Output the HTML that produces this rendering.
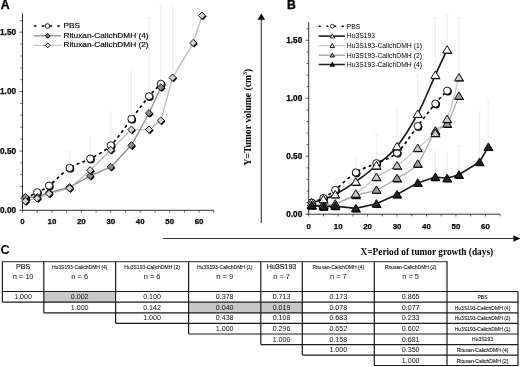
<!DOCTYPE html>
<html><head><meta charset="utf-8"><style>
html,body{margin:0;padding:0;background:#fff;overflow:hidden;width:520px;height:367px;}
svg{display:block;}
</style></head><body>
<svg width="520" height="367" viewBox="0 0 520 367">
<rect width="520" height="367" fill="#fff"/>
<text x="0.70" y="9.00" font-size="12.3" text-anchor="start" font-weight="bold" font-family="'Liberation Sans', Arial, sans-serif" fill="#000" stroke="#000" stroke-width="0.3" >A</text>
<text x="286.90" y="9.00" font-size="12.3" text-anchor="start" font-weight="bold" font-family="'Liberation Sans', Arial, sans-serif" fill="#000" stroke="#000" stroke-width="0.35" >B</text>
<text x="0.60" y="254.40" font-size="12.8" text-anchor="start" font-weight="bold" font-family="'Liberation Sans', Arial, sans-serif" fill="#000" >C</text>
<path d="M49.0,186.0 V177.0 M47.0,177.0 H51.0" stroke="#e9e9e9" stroke-width="0.8" fill="none"/>
<path d="M69.6,168.0 V152.0 M67.6,152.0 H71.6" stroke="#e9e9e9" stroke-width="0.8" fill="none"/>
<path d="M90.2,158.0 V137.5 M88.2,137.5 H92.2" stroke="#e9e9e9" stroke-width="0.8" fill="none"/>
<path d="M110.8,145.0 V112.0 M108.8,112.0 H112.8" stroke="#e9e9e9" stroke-width="0.8" fill="none"/>
<path d="M131.4,119.0 V70.0 M129.4,70.0 H133.4" stroke="#e9e9e9" stroke-width="0.8" fill="none"/>
<path d="M149.0,96.0 V18.0 M147.0,18.0 H151.0" stroke="#e9e9e9" stroke-width="0.8" fill="none"/>
<path d="M160.8,84.0 V6.0 M158.8,6.0 H162.8" stroke="#e9e9e9" stroke-width="0.8" fill="none"/>
<path d="M172.6,77.0 V6.0 M170.6,6.0 H174.6" stroke="#e9e9e9" stroke-width="0.8" fill="none"/>
<path d="M193.2,42.0 V10.0 M191.2,10.0 H195.2" stroke="#e9e9e9" stroke-width="0.8" fill="none"/>
<path d="M22.5,13.3 V210.3" stroke="#333" stroke-width="1" fill="none"/>
<path d="M19.5,210.3 H213.8" stroke="#333" stroke-width="1" fill="none"/>
<path d="M20.3,198.4 H22.5" stroke="#333" stroke-width="0.8"/>
<path d="M20.3,186.6 H22.5" stroke="#333" stroke-width="0.8"/>
<path d="M20.3,174.7 H22.5" stroke="#333" stroke-width="0.8"/>
<path d="M20.3,162.8 H22.5" stroke="#333" stroke-width="0.8"/>
<path d="M19.5,151.0 H22.5" stroke="#333" stroke-width="0.8"/>
<path d="M20.3,139.1 H22.5" stroke="#333" stroke-width="0.8"/>
<path d="M20.3,127.2 H22.5" stroke="#333" stroke-width="0.8"/>
<path d="M20.3,115.3 H22.5" stroke="#333" stroke-width="0.8"/>
<path d="M20.3,103.5 H22.5" stroke="#333" stroke-width="0.8"/>
<path d="M19.5,91.6 H22.5" stroke="#333" stroke-width="0.8"/>
<path d="M20.3,79.7 H22.5" stroke="#333" stroke-width="0.8"/>
<path d="M20.3,67.9 H22.5" stroke="#333" stroke-width="0.8"/>
<path d="M20.3,56.0 H22.5" stroke="#333" stroke-width="0.8"/>
<path d="M20.3,44.1 H22.5" stroke="#333" stroke-width="0.8"/>
<path d="M19.5,32.2 H22.5" stroke="#333" stroke-width="0.8"/>
<path d="M20.3,20.4 H22.5" stroke="#333" stroke-width="0.8"/>
<path d="M22.5,210.3 V212.6" stroke="#333" stroke-width="0.8"/>
<path d="M37.2,210.3 V212.6" stroke="#333" stroke-width="0.8"/>
<path d="M51.9,210.3 V212.6" stroke="#333" stroke-width="0.8"/>
<path d="M66.6,210.3 V212.6" stroke="#333" stroke-width="0.8"/>
<path d="M81.4,210.3 V212.6" stroke="#333" stroke-width="0.8"/>
<path d="M96.1,210.3 V212.6" stroke="#333" stroke-width="0.8"/>
<path d="M110.8,210.3 V212.6" stroke="#333" stroke-width="0.8"/>
<path d="M125.5,210.3 V212.6" stroke="#333" stroke-width="0.8"/>
<path d="M140.2,210.3 V212.6" stroke="#333" stroke-width="0.8"/>
<path d="M154.9,210.3 V212.6" stroke="#333" stroke-width="0.8"/>
<path d="M169.7,210.3 V212.6" stroke="#333" stroke-width="0.8"/>
<path d="M184.4,210.3 V212.6" stroke="#333" stroke-width="0.8"/>
<path d="M199.1,210.3 V212.6" stroke="#333" stroke-width="0.8"/>
<path d="M213.8,210.3 V212.6" stroke="#333" stroke-width="0.8"/>
<text x="16.00" y="213.10" font-size="8.2" text-anchor="end" font-weight="bold" font-family="'Liberation Sans', Arial, sans-serif" fill="#000" stroke="#000" stroke-width="0.25" >0.00</text>
<text x="16.00" y="153.75" font-size="8.2" text-anchor="end" font-weight="bold" font-family="'Liberation Sans', Arial, sans-serif" fill="#000" stroke="#000" stroke-width="0.25" >0.50</text>
<text x="16.00" y="94.40" font-size="8.2" text-anchor="end" font-weight="bold" font-family="'Liberation Sans', Arial, sans-serif" fill="#000" stroke="#000" stroke-width="0.25" >1.00</text>
<text x="16.00" y="35.05" font-size="8.2" text-anchor="end" font-weight="bold" font-family="'Liberation Sans', Arial, sans-serif" fill="#000" stroke="#000" stroke-width="0.25" >1.50</text>
<text x="22.50" y="224.00" font-size="7.9" text-anchor="middle" font-weight="bold" font-family="'Liberation Sans', Arial, sans-serif" fill="#000" stroke="#000" stroke-width="0.25" >0</text>
<text x="51.93" y="224.00" font-size="7.9" text-anchor="middle" font-weight="bold" font-family="'Liberation Sans', Arial, sans-serif" fill="#000" stroke="#000" stroke-width="0.25" >10</text>
<text x="81.36" y="224.00" font-size="7.9" text-anchor="middle" font-weight="bold" font-family="'Liberation Sans', Arial, sans-serif" fill="#000" stroke="#000" stroke-width="0.25" >20</text>
<text x="110.79" y="224.00" font-size="7.9" text-anchor="middle" font-weight="bold" font-family="'Liberation Sans', Arial, sans-serif" fill="#000" stroke="#000" stroke-width="0.25" >30</text>
<text x="140.22" y="224.00" font-size="7.9" text-anchor="middle" font-weight="bold" font-family="'Liberation Sans', Arial, sans-serif" fill="#000" stroke="#000" stroke-width="0.25" >40</text>
<text x="169.65" y="224.00" font-size="7.9" text-anchor="middle" font-weight="bold" font-family="'Liberation Sans', Arial, sans-serif" fill="#000" stroke="#000" stroke-width="0.25" >50</text>
<text x="199.08" y="224.00" font-size="7.9" text-anchor="middle" font-weight="bold" font-family="'Liberation Sans', Arial, sans-serif" fill="#000" stroke="#000" stroke-width="0.25" >60</text>
<path d="M25.4,201.2 L37.2,198.4 L49.0,193.7 L69.6,188.3 L90.2,170.3 L110.8,150.0 L131.4,129.6 L149.0,129.6 L160.8,120.6 L172.6,77.6 L193.2,42.9 L202.0,15.6" stroke="#bdbdbd" stroke-width="1.3" fill="none"/>
<path d="M25.4,197.0 L37.2,197.2 L49.0,192.5 L69.6,187.2 L90.2,175.9 L110.8,166.9 L131.4,145.3 L149.0,113.2 L160.8,87.4" stroke="#8c8c8c" stroke-width="1.3" fill="none"/>
<path d="M25.4,198.4 C27.4,197.4 33.3,194.4 37.2,192.3 C41.1,190.1 43.6,189.8 49.0,185.7 C54.4,181.7 62.7,172.4 69.6,167.9 C76.5,163.4 83.3,162.4 90.2,158.7 C97.1,154.9 103.9,152.0 110.8,145.4 C117.7,138.7 125.0,127.1 131.4,118.9 C137.8,110.7 144.1,102.2 149.0,96.3 C154.0,90.5 158.9,85.9 160.8,83.8" stroke="#000" stroke-width="1.7" stroke-dasharray="3 3.2" fill="none"/>
<circle cx="26.2" cy="199.2" r="3.9" fill="#000"/>
<circle cx="25.4" cy="198.4" r="3.6" fill="#fff" stroke="#000" stroke-width="0.9"/>
<circle cx="38.0" cy="193.1" r="3.9" fill="#000"/>
<circle cx="37.2" cy="192.3" r="3.6" fill="#fff" stroke="#000" stroke-width="0.9"/>
<circle cx="49.8" cy="186.5" r="3.9" fill="#000"/>
<circle cx="49.0" cy="185.7" r="3.6" fill="#fff" stroke="#000" stroke-width="0.9"/>
<circle cx="70.4" cy="168.7" r="3.9" fill="#000"/>
<circle cx="69.6" cy="167.9" r="3.6" fill="#fff" stroke="#000" stroke-width="0.9"/>
<circle cx="91.0" cy="159.5" r="3.9" fill="#000"/>
<circle cx="90.2" cy="158.7" r="3.6" fill="#fff" stroke="#000" stroke-width="0.9"/>
<circle cx="111.6" cy="146.2" r="3.9" fill="#000"/>
<circle cx="110.8" cy="145.4" r="3.6" fill="#fff" stroke="#000" stroke-width="0.9"/>
<circle cx="132.2" cy="119.7" r="3.9" fill="#000"/>
<circle cx="131.4" cy="118.9" r="3.6" fill="#fff" stroke="#000" stroke-width="0.9"/>
<circle cx="149.8" cy="97.1" r="3.9" fill="#000"/>
<circle cx="149.0" cy="96.3" r="3.6" fill="#fff" stroke="#000" stroke-width="0.9"/>
<circle cx="161.6" cy="84.6" r="3.9" fill="#000"/>
<circle cx="160.8" cy="83.8" r="3.6" fill="#fff" stroke="#000" stroke-width="0.9"/>
<path d="M26.4,194.4 L30.0,198.0 L26.4,201.6 L22.8,198.0Z" fill="#000"/>
<path d="M25.4,193.4 L29.0,197.0 L25.4,200.6 L21.8,197.0Z" fill="#8a8a8a" stroke="#000" stroke-width="0.85"/>
<path d="M38.2,194.6 L41.8,198.2 L38.2,201.8 L34.6,198.2Z" fill="#000"/>
<path d="M37.2,193.6 L40.8,197.2 L37.2,200.8 L33.6,197.2Z" fill="#8a8a8a" stroke="#000" stroke-width="0.85"/>
<path d="M50.0,189.9 L53.6,193.5 L50.0,197.1 L46.4,193.5Z" fill="#000"/>
<path d="M49.0,188.9 L52.6,192.5 L49.0,196.1 L45.4,192.5Z" fill="#8a8a8a" stroke="#000" stroke-width="0.85"/>
<path d="M70.6,184.6 L74.2,188.2 L70.6,191.8 L67.0,188.2Z" fill="#000"/>
<path d="M69.6,183.6 L73.2,187.2 L69.6,190.8 L66.0,187.2Z" fill="#8a8a8a" stroke="#000" stroke-width="0.85"/>
<path d="M91.2,173.3 L94.8,176.9 L91.2,180.5 L87.6,176.9Z" fill="#000"/>
<path d="M90.2,172.3 L93.8,175.9 L90.2,179.5 L86.6,175.9Z" fill="#8a8a8a" stroke="#000" stroke-width="0.85"/>
<path d="M111.8,164.3 L115.4,167.9 L111.8,171.5 L108.2,167.9Z" fill="#000"/>
<path d="M110.8,163.3 L114.4,166.9 L110.8,170.5 L107.2,166.9Z" fill="#8a8a8a" stroke="#000" stroke-width="0.85"/>
<path d="M132.4,142.7 L136.0,146.3 L132.4,149.9 L128.8,146.3Z" fill="#000"/>
<path d="M131.4,141.7 L135.0,145.3 L131.4,148.9 L127.8,145.3Z" fill="#8a8a8a" stroke="#000" stroke-width="0.85"/>
<path d="M150.0,110.6 L153.6,114.2 L150.0,117.8 L146.4,114.2Z" fill="#000"/>
<path d="M149.0,109.6 L152.6,113.2 L149.0,116.8 L145.4,113.2Z" fill="#8a8a8a" stroke="#000" stroke-width="0.85"/>
<path d="M161.8,84.8 L165.4,88.4 L161.8,92.0 L158.2,88.4Z" fill="#000"/>
<path d="M160.8,83.8 L164.4,87.4 L160.8,91.0 L157.2,87.4Z" fill="#8a8a8a" stroke="#000" stroke-width="0.85"/>
<path d="M26.4,198.6 L30.0,202.2 L26.4,205.8 L22.8,202.2Z" fill="#000"/>
<path d="M25.4,197.6 L29.0,201.2 L25.4,204.8 L21.8,201.2Z" fill="#d0d0d0" stroke="#000" stroke-width="0.85"/>
<path d="M38.2,195.8 L41.8,199.4 L38.2,203.0 L34.6,199.4Z" fill="#000"/>
<path d="M37.2,194.8 L40.8,198.4 L37.2,202.0 L33.6,198.4Z" fill="#d0d0d0" stroke="#000" stroke-width="0.85"/>
<path d="M50.0,191.1 L53.6,194.7 L50.0,198.3 L46.4,194.7Z" fill="#000"/>
<path d="M49.0,190.1 L52.6,193.7 L49.0,197.3 L45.4,193.7Z" fill="#d0d0d0" stroke="#000" stroke-width="0.85"/>
<path d="M70.6,185.7 L74.2,189.3 L70.6,192.9 L67.0,189.3Z" fill="#000"/>
<path d="M69.6,184.7 L73.2,188.3 L69.6,191.9 L66.0,188.3Z" fill="#d0d0d0" stroke="#000" stroke-width="0.85"/>
<path d="M91.2,167.7 L94.8,171.3 L91.2,174.9 L87.6,171.3Z" fill="#000"/>
<path d="M90.2,166.7 L93.8,170.3 L90.2,173.9 L86.6,170.3Z" fill="#d0d0d0" stroke="#000" stroke-width="0.85"/>
<path d="M111.8,147.4 L115.4,151.0 L111.8,154.6 L108.2,151.0Z" fill="#000"/>
<path d="M110.8,146.4 L114.4,150.0 L110.8,153.6 L107.2,150.0Z" fill="#d0d0d0" stroke="#000" stroke-width="0.85"/>
<path d="M132.4,127.0 L136.0,130.6 L132.4,134.2 L128.8,130.6Z" fill="#000"/>
<path d="M131.4,126.0 L135.0,129.6 L131.4,133.2 L127.8,129.6Z" fill="#d0d0d0" stroke="#000" stroke-width="0.85"/>
<path d="M150.0,127.0 L153.6,130.6 L150.0,134.2 L146.4,130.6Z" fill="#000"/>
<path d="M149.0,126.0 L152.6,129.6 L149.0,133.2 L145.4,129.6Z" fill="#d0d0d0" stroke="#000" stroke-width="0.85"/>
<path d="M161.8,118.0 L165.4,121.6 L161.8,125.2 L158.2,121.6Z" fill="#000"/>
<path d="M160.8,117.0 L164.4,120.6 L160.8,124.2 L157.2,120.6Z" fill="#d0d0d0" stroke="#000" stroke-width="0.85"/>
<path d="M173.6,75.0 L177.2,78.6 L173.6,82.2 L170.0,78.6Z" fill="#000"/>
<path d="M172.6,74.0 L176.2,77.6 L172.6,81.2 L169.0,77.6Z" fill="#d0d0d0" stroke="#000" stroke-width="0.85"/>
<path d="M194.2,40.3 L197.8,43.9 L194.2,47.5 L190.6,43.9Z" fill="#000"/>
<path d="M193.2,39.3 L196.8,42.9 L193.2,46.5 L189.6,42.9Z" fill="#d0d0d0" stroke="#000" stroke-width="0.85"/>
<path d="M203.0,13.0 L206.6,16.6 L203.0,20.2 L199.4,16.6Z" fill="#000"/>
<path d="M202.0,12.0 L205.6,15.6 L202.0,19.2 L198.4,15.6Z" fill="#d0d0d0" stroke="#000" stroke-width="0.85"/>
<path d="M33.9,26.0 H61" stroke="#000" stroke-width="1.7" stroke-dasharray="2.6 5.2" fill="none"/>
<circle cx="47.4" cy="26.0" r="2.3" fill="#fff" stroke="#000" stroke-width="0.9"/>
<text transform="translate(63.50,27.70) scale(1.15,1)" font-size="7.2" text-anchor="start" font-weight="normal" font-family="'Liberation Sans', Arial, sans-serif" fill="#000" stroke="#000" stroke-width="0.15" >PBS</text>
<path d="M33.7,35.8 H61" stroke="#8c8c8c" stroke-width="1.3" fill="none"/>
<path d="M47.7,33.4 L50.1,35.8 L47.7,38.2 L45.3,35.8Z" fill="#777" stroke="#000" stroke-width="1.0"/>
<text transform="translate(63.50,37.50) scale(1.15,1)" font-size="7.2" text-anchor="start" font-weight="normal" font-family="'Liberation Sans', Arial, sans-serif" fill="#000" stroke="#000" stroke-width="0.15" >Rituxan-CalichDMH (4)</text>
<path d="M33.7,45.4 H61" stroke="#c8c8c8" stroke-width="1.3" fill="none"/>
<path d="M47.7,43.0 L50.1,45.4 L47.7,47.8 L45.3,45.4Z" fill="#fff" stroke="#000" stroke-width="1.0"/>
<text transform="translate(63.50,46.90) scale(1.15,1)" font-size="7.2" text-anchor="start" font-weight="normal" font-family="'Liberation Sans', Arial, sans-serif" fill="#000" stroke="#000" stroke-width="0.15" >Rituxan-CalichDMH (2)</text>
<path d="M261.3,19 V223" stroke="#333" stroke-width="1.1" fill="none"/>
<path d="M261.3,13.6 L265.2,19.8 L257.4,19.8Z" fill="#111"/>
<path d="M163,238.5 H514" stroke="#333" stroke-width="1.1" fill="none"/>
<path d="M520.5,238.5 L513.3,235.3 L513.3,241.7Z" fill="#111"/>
<text x="0.00" y="0.00" font-size="9.65" text-anchor="start" font-weight="bold" font-family="'Liberation Serif', 'Times New Roman', serif" fill="#000" transform="translate(250.9,165.5) rotate(-90)">Y=Tumor volume (cm<tspan font-size="6" dy="-3.5">3</tspan><tspan dy="3.5">)</tspan></text>
<text x="360.60" y="255.20" font-size="9.3" text-anchor="start" font-weight="bold" font-family="'Liberation Serif', 'Times New Roman', serif" fill="#000" >X=Period of tumor growth (days)</text>
<path d="M335.2,189.0 V180.0 M333.2,180.0 H337.2" stroke="#e9e9e9" stroke-width="0.8" fill="none"/>
<path d="M355.8,172.0 V157.0 M353.8,157.0 H357.8" stroke="#e9e9e9" stroke-width="0.8" fill="none"/>
<path d="M376.4,163.0 V134.5 M374.4,134.5 H378.4" stroke="#e9e9e9" stroke-width="0.8" fill="none"/>
<path d="M397.0,146.0 V110.0 M395.0,110.0 H399.0" stroke="#e9e9e9" stroke-width="0.8" fill="none"/>
<path d="M417.7,114.0 V75.0 M415.7,75.0 H419.7" stroke="#e9e9e9" stroke-width="0.8" fill="none"/>
<path d="M435.3,75.0 V18.0 M433.3,18.0 H437.3" stroke="#e9e9e9" stroke-width="0.8" fill="none"/>
<path d="M447.1,49.0 V15.0 M445.1,15.0 H449.1" stroke="#e9e9e9" stroke-width="0.8" fill="none"/>
<path d="M458.9,77.0 V18.0 M456.9,18.0 H460.9" stroke="#e9e9e9" stroke-width="0.8" fill="none"/>
<path d="M479.5,162.0 V112.0 M477.5,112.0 H481.5" stroke="#e9e9e9" stroke-width="0.8" fill="none"/>
<path d="M488.3,147.0 V100.0 M486.3,100.0 H490.3" stroke="#e9e9e9" stroke-width="0.8" fill="none"/>
<path d="M435.3,176.0 V150.0 M433.3,150.0 H437.3" stroke="#e9e9e9" stroke-width="0.8" fill="none"/>
<path d="M447.1,177.0 V152.0 M445.1,152.0 H449.1" stroke="#e9e9e9" stroke-width="0.8" fill="none"/>
<path d="M458.9,175.0 V146.0 M456.9,146.0 H460.9" stroke="#e9e9e9" stroke-width="0.8" fill="none"/>
<path d="M308.7,22.2 V214.2" stroke="#333" stroke-width="1" fill="none"/>
<path d="M305.7,214.2 H500.1" stroke="#333" stroke-width="1" fill="none"/>
<path d="M306.5,202.6 H308.7" stroke="#333" stroke-width="0.8"/>
<path d="M306.5,191.0 H308.7" stroke="#333" stroke-width="0.8"/>
<path d="M306.5,179.4 H308.7" stroke="#333" stroke-width="0.8"/>
<path d="M306.5,167.8 H308.7" stroke="#333" stroke-width="0.8"/>
<path d="M305.7,156.2 H308.7" stroke="#333" stroke-width="0.8"/>
<path d="M306.5,144.7 H308.7" stroke="#333" stroke-width="0.8"/>
<path d="M306.5,133.1 H308.7" stroke="#333" stroke-width="0.8"/>
<path d="M306.5,121.5 H308.7" stroke="#333" stroke-width="0.8"/>
<path d="M306.5,109.9 H308.7" stroke="#333" stroke-width="0.8"/>
<path d="M305.7,98.3 H308.7" stroke="#333" stroke-width="0.8"/>
<path d="M306.5,86.7 H308.7" stroke="#333" stroke-width="0.8"/>
<path d="M306.5,75.1 H308.7" stroke="#333" stroke-width="0.8"/>
<path d="M306.5,63.5 H308.7" stroke="#333" stroke-width="0.8"/>
<path d="M306.5,51.9 H308.7" stroke="#333" stroke-width="0.8"/>
<path d="M305.7,40.3 H308.7" stroke="#333" stroke-width="0.8"/>
<path d="M306.5,28.8 H308.7" stroke="#333" stroke-width="0.8"/>
<path d="M308.7,214.2 V216.5" stroke="#333" stroke-width="0.8"/>
<path d="M323.4,214.2 V216.5" stroke="#333" stroke-width="0.8"/>
<path d="M338.1,214.2 V216.5" stroke="#333" stroke-width="0.8"/>
<path d="M352.9,214.2 V216.5" stroke="#333" stroke-width="0.8"/>
<path d="M367.6,214.2 V216.5" stroke="#333" stroke-width="0.8"/>
<path d="M382.3,214.2 V216.5" stroke="#333" stroke-width="0.8"/>
<path d="M397.0,214.2 V216.5" stroke="#333" stroke-width="0.8"/>
<path d="M411.8,214.2 V216.5" stroke="#333" stroke-width="0.8"/>
<path d="M426.5,214.2 V216.5" stroke="#333" stroke-width="0.8"/>
<path d="M441.2,214.2 V216.5" stroke="#333" stroke-width="0.8"/>
<path d="M455.9,214.2 V216.5" stroke="#333" stroke-width="0.8"/>
<path d="M470.7,214.2 V216.5" stroke="#333" stroke-width="0.8"/>
<path d="M485.4,214.2 V216.5" stroke="#333" stroke-width="0.8"/>
<path d="M500.1,214.2 V216.5" stroke="#333" stroke-width="0.8"/>
<text x="302.20" y="217.00" font-size="8.2" text-anchor="end" font-weight="bold" font-family="'Liberation Sans', Arial, sans-serif" fill="#000" stroke="#000" stroke-width="0.25" >0.00</text>
<text x="302.20" y="159.05" font-size="8.2" text-anchor="end" font-weight="bold" font-family="'Liberation Sans', Arial, sans-serif" fill="#000" stroke="#000" stroke-width="0.25" >0.50</text>
<text x="302.20" y="101.10" font-size="8.2" text-anchor="end" font-weight="bold" font-family="'Liberation Sans', Arial, sans-serif" fill="#000" stroke="#000" stroke-width="0.25" >1.00</text>
<text x="302.20" y="43.15" font-size="8.2" text-anchor="end" font-weight="bold" font-family="'Liberation Sans', Arial, sans-serif" fill="#000" stroke="#000" stroke-width="0.25" >1.50</text>
<text x="308.70" y="228.60" font-size="7.9" text-anchor="middle" font-weight="bold" font-family="'Liberation Sans', Arial, sans-serif" fill="#000" stroke="#000" stroke-width="0.25" >0</text>
<text x="338.15" y="228.60" font-size="7.9" text-anchor="middle" font-weight="bold" font-family="'Liberation Sans', Arial, sans-serif" fill="#000" stroke="#000" stroke-width="0.25" >10</text>
<text x="367.60" y="228.60" font-size="7.9" text-anchor="middle" font-weight="bold" font-family="'Liberation Sans', Arial, sans-serif" fill="#000" stroke="#000" stroke-width="0.25" >20</text>
<text x="397.05" y="228.60" font-size="7.9" text-anchor="middle" font-weight="bold" font-family="'Liberation Sans', Arial, sans-serif" fill="#000" stroke="#000" stroke-width="0.25" >30</text>
<text x="426.50" y="228.60" font-size="7.9" text-anchor="middle" font-weight="bold" font-family="'Liberation Sans', Arial, sans-serif" fill="#000" stroke="#000" stroke-width="0.25" >40</text>
<text x="455.95" y="228.60" font-size="7.9" text-anchor="middle" font-weight="bold" font-family="'Liberation Sans', Arial, sans-serif" fill="#000" stroke="#000" stroke-width="0.25" >50</text>
<text x="485.40" y="228.60" font-size="7.9" text-anchor="middle" font-weight="bold" font-family="'Liberation Sans', Arial, sans-serif" fill="#000" stroke="#000" stroke-width="0.25" >60</text>
<path d="M311.6,204.9 C313.6,204.8 319.5,204.5 323.4,204.3 C327.4,204.2 329.8,205.5 335.2,203.8 C340.6,202.0 348.9,198.4 355.8,193.9 C362.7,189.5 369.6,181.8 376.4,177.1 C383.3,172.4 390.2,170.4 397.0,165.5 C403.9,160.7 411.3,153.5 417.7,148.1 C424.0,142.7 430.4,137.9 435.3,133.1 C440.2,128.2 443.2,128.4 447.1,119.2 C451.0,109.9 456.9,84.4 458.9,77.4" stroke="#c8c8c8" stroke-width="1.3" fill="none"/>
<path d="M311.6,205.5 C313.6,205.4 319.5,205.1 323.4,204.9 C327.4,204.7 329.8,206.0 335.2,204.3 C340.6,202.7 348.9,197.5 355.8,195.1 C362.7,192.7 369.6,192.7 376.4,189.9 C383.3,187.1 390.2,182.6 397.0,178.3 C403.9,173.9 411.3,171.7 417.7,163.8 C424.0,155.9 430.4,137.4 435.3,130.8 C440.2,124.1 443.2,129.6 447.1,123.8 C451.0,118.0 456.9,100.6 458.9,96.0" stroke="#a8a8a8" stroke-width="1.3" fill="none"/>
<path d="M311.6,205.3 L323.4,206.6 L335.2,206.1 L355.8,208.4 L376.4,203.8 L397.0,194.5 L417.7,182.9 L435.3,177.1 L447.1,178.3 L458.9,174.8 L479.5,162.0 L488.3,147.0" stroke="#1a1a1a" stroke-width="1.6" fill="none"/>
<path d="M311.6,202.6 C313.6,202.1 319.5,200.7 323.4,199.4 C327.4,198.0 329.8,197.4 335.2,194.5 C340.6,191.6 348.9,186.6 355.8,181.7 C362.7,176.9 369.6,171.4 376.4,165.5 C383.3,159.6 390.2,155.0 397.0,146.4 C403.9,137.8 411.3,125.8 417.7,113.9 C424.0,102.1 430.4,85.8 435.3,75.1 C440.2,64.4 445.2,53.9 447.1,49.6" stroke="#111" stroke-width="1.6" fill="none"/>
<path d="M311.6,202.6 C313.6,201.8 319.5,200.1 323.4,198.0 C327.4,195.8 329.8,194.1 335.2,189.9 C340.6,185.6 348.9,176.9 355.8,172.5 C362.7,168.0 369.6,166.5 376.4,163.2 C383.3,159.9 390.2,159.0 397.0,152.8 C403.9,146.6 411.3,134.3 417.7,126.1 C424.0,117.9 430.4,109.5 435.3,103.6 C440.2,97.7 445.2,92.8 447.1,90.7" stroke="#000" stroke-width="1.7" stroke-dasharray="3 3.2" fill="none"/>
<path d="M312.4,202.2 L316.8,209.6 L308.0,209.6Z" fill="#000"/>
<path d="M311.6,201.4 L316.0,208.8 L307.2,208.8Z" fill="#999" stroke="#000" stroke-width="0.9" stroke-linejoin="miter"/>
<path d="M324.2,201.7 L328.6,209.1 L319.8,209.1Z" fill="#000"/>
<path d="M323.4,200.9 L327.8,208.3 L319.0,208.3Z" fill="#999" stroke="#000" stroke-width="0.9" stroke-linejoin="miter"/>
<path d="M336.0,201.1 L340.4,208.5 L331.6,208.5Z" fill="#000"/>
<path d="M335.2,200.3 L339.6,207.7 L330.8,207.7Z" fill="#999" stroke="#000" stroke-width="0.9" stroke-linejoin="miter"/>
<path d="M356.6,191.8 L361.0,199.2 L352.2,199.2Z" fill="#000"/>
<path d="M355.8,191.0 L360.2,198.4 L351.4,198.4Z" fill="#999" stroke="#000" stroke-width="0.9" stroke-linejoin="miter"/>
<path d="M377.2,186.6 L381.6,194.0 L372.8,194.0Z" fill="#000"/>
<path d="M376.4,185.8 L380.8,193.2 L372.0,193.2Z" fill="#999" stroke="#000" stroke-width="0.9" stroke-linejoin="miter"/>
<path d="M397.8,175.0 L402.2,182.4 L393.4,182.4Z" fill="#000"/>
<path d="M397.0,174.2 L401.4,181.6 L392.6,181.6Z" fill="#999" stroke="#000" stroke-width="0.9" stroke-linejoin="miter"/>
<path d="M418.5,160.5 L422.9,167.9 L414.1,167.9Z" fill="#000"/>
<path d="M417.7,159.7 L422.1,167.1 L413.3,167.1Z" fill="#999" stroke="#000" stroke-width="0.9" stroke-linejoin="miter"/>
<path d="M436.1,127.5 L440.5,134.9 L431.7,134.9Z" fill="#000"/>
<path d="M435.3,126.7 L439.7,134.1 L430.9,134.1Z" fill="#999" stroke="#000" stroke-width="0.9" stroke-linejoin="miter"/>
<path d="M447.9,120.5 L452.3,127.9 L443.5,127.9Z" fill="#000"/>
<path d="M447.1,119.7 L451.5,127.1 L442.7,127.1Z" fill="#999" stroke="#000" stroke-width="0.9" stroke-linejoin="miter"/>
<path d="M459.7,92.7 L464.1,100.1 L455.3,100.1Z" fill="#000"/>
<path d="M458.9,91.9 L463.3,99.3 L454.5,99.3Z" fill="#999" stroke="#000" stroke-width="0.9" stroke-linejoin="miter"/>
<path d="M312.4,201.7 L316.8,209.1 L308.0,209.1Z" fill="#000"/>
<path d="M311.6,200.9 L316.0,208.3 L307.2,208.3Z" fill="#c8c8c8" stroke="#000" stroke-width="0.9" stroke-linejoin="miter"/>
<path d="M324.2,201.1 L328.6,208.5 L319.8,208.5Z" fill="#000"/>
<path d="M323.4,200.3 L327.8,207.7 L319.0,207.7Z" fill="#c8c8c8" stroke="#000" stroke-width="0.9" stroke-linejoin="miter"/>
<path d="M336.0,200.5 L340.4,207.9 L331.6,207.9Z" fill="#000"/>
<path d="M335.2,199.7 L339.6,207.1 L330.8,207.1Z" fill="#c8c8c8" stroke="#000" stroke-width="0.9" stroke-linejoin="miter"/>
<path d="M356.6,190.6 L361.0,198.0 L352.2,198.0Z" fill="#000"/>
<path d="M355.8,189.8 L360.2,197.2 L351.4,197.2Z" fill="#c8c8c8" stroke="#000" stroke-width="0.9" stroke-linejoin="miter"/>
<path d="M377.2,173.8 L381.6,181.2 L372.8,181.2Z" fill="#000"/>
<path d="M376.4,173.0 L380.8,180.4 L372.0,180.4Z" fill="#c8c8c8" stroke="#000" stroke-width="0.9" stroke-linejoin="miter"/>
<path d="M397.8,162.3 L402.2,169.7 L393.4,169.7Z" fill="#000"/>
<path d="M397.0,161.5 L401.4,168.9 L392.6,168.9Z" fill="#c8c8c8" stroke="#000" stroke-width="0.9" stroke-linejoin="miter"/>
<path d="M418.5,144.9 L422.9,152.3 L414.1,152.3Z" fill="#000"/>
<path d="M417.7,144.1 L422.1,151.5 L413.3,151.5Z" fill="#c8c8c8" stroke="#000" stroke-width="0.9" stroke-linejoin="miter"/>
<path d="M436.1,129.8 L440.5,137.2 L431.7,137.2Z" fill="#000"/>
<path d="M435.3,129.0 L439.7,136.4 L430.9,136.4Z" fill="#c8c8c8" stroke="#000" stroke-width="0.9" stroke-linejoin="miter"/>
<path d="M447.9,115.9 L452.3,123.3 L443.5,123.3Z" fill="#000"/>
<path d="M447.1,115.1 L451.5,122.5 L442.7,122.5Z" fill="#c8c8c8" stroke="#000" stroke-width="0.9" stroke-linejoin="miter"/>
<path d="M459.7,74.2 L464.1,81.6 L455.3,81.6Z" fill="#000"/>
<path d="M458.9,73.4 L463.3,80.8 L454.5,80.8Z" fill="#c8c8c8" stroke="#000" stroke-width="0.9" stroke-linejoin="miter"/>
<circle cx="312.4" cy="203.4" r="3.9" fill="#000"/>
<circle cx="311.6" cy="202.6" r="3.6" fill="#fff" stroke="#000" stroke-width="0.9"/>
<circle cx="324.2" cy="198.8" r="3.9" fill="#000"/>
<circle cx="323.4" cy="198.0" r="3.6" fill="#fff" stroke="#000" stroke-width="0.9"/>
<circle cx="336.0" cy="190.7" r="3.9" fill="#000"/>
<circle cx="335.2" cy="189.9" r="3.6" fill="#fff" stroke="#000" stroke-width="0.9"/>
<circle cx="356.6" cy="173.3" r="3.9" fill="#000"/>
<circle cx="355.8" cy="172.5" r="3.6" fill="#fff" stroke="#000" stroke-width="0.9"/>
<circle cx="377.2" cy="164.0" r="3.9" fill="#000"/>
<circle cx="376.4" cy="163.2" r="3.6" fill="#fff" stroke="#000" stroke-width="0.9"/>
<circle cx="397.8" cy="153.6" r="3.9" fill="#000"/>
<circle cx="397.0" cy="152.8" r="3.6" fill="#fff" stroke="#000" stroke-width="0.9"/>
<circle cx="418.5" cy="126.9" r="3.9" fill="#000"/>
<circle cx="417.7" cy="126.1" r="3.6" fill="#fff" stroke="#000" stroke-width="0.9"/>
<circle cx="436.1" cy="104.4" r="3.9" fill="#000"/>
<circle cx="435.3" cy="103.6" r="3.6" fill="#fff" stroke="#000" stroke-width="0.9"/>
<circle cx="447.9" cy="91.5" r="3.9" fill="#000"/>
<circle cx="447.1" cy="90.7" r="3.6" fill="#fff" stroke="#000" stroke-width="0.9"/>
<path d="M312.4,199.3 L316.8,206.7 L308.0,206.7Z" fill="#000"/>
<path d="M311.6,198.5 L316.0,205.9 L307.2,205.9Z" fill="#fff" stroke="#000" stroke-width="0.9" stroke-linejoin="miter"/>
<path d="M324.2,196.1 L328.6,203.5 L319.8,203.5Z" fill="#000"/>
<path d="M323.4,195.3 L327.8,202.7 L319.0,202.7Z" fill="#fff" stroke="#000" stroke-width="0.9" stroke-linejoin="miter"/>
<path d="M336.0,191.2 L340.4,198.6 L331.6,198.6Z" fill="#000"/>
<path d="M335.2,190.4 L339.6,197.8 L330.8,197.8Z" fill="#fff" stroke="#000" stroke-width="0.9" stroke-linejoin="miter"/>
<path d="M356.6,178.5 L361.0,185.9 L352.2,185.9Z" fill="#000"/>
<path d="M355.8,177.7 L360.2,185.1 L351.4,185.1Z" fill="#fff" stroke="#000" stroke-width="0.9" stroke-linejoin="miter"/>
<path d="M377.2,162.3 L381.6,169.7 L372.8,169.7Z" fill="#000"/>
<path d="M376.4,161.5 L380.8,168.9 L372.0,168.9Z" fill="#fff" stroke="#000" stroke-width="0.9" stroke-linejoin="miter"/>
<path d="M397.8,143.1 L402.2,150.5 L393.4,150.5Z" fill="#000"/>
<path d="M397.0,142.3 L401.4,149.7 L392.6,149.7Z" fill="#fff" stroke="#000" stroke-width="0.9" stroke-linejoin="miter"/>
<path d="M418.5,110.7 L422.9,118.1 L414.1,118.1Z" fill="#000"/>
<path d="M417.7,109.9 L422.1,117.3 L413.3,117.3Z" fill="#fff" stroke="#000" stroke-width="0.9" stroke-linejoin="miter"/>
<path d="M436.1,71.8 L440.5,79.2 L431.7,79.2Z" fill="#000"/>
<path d="M435.3,71.0 L439.7,78.4 L430.9,78.4Z" fill="#fff" stroke="#000" stroke-width="0.9" stroke-linejoin="miter"/>
<path d="M447.9,46.4 L452.3,53.8 L443.5,53.8Z" fill="#000"/>
<path d="M447.1,45.6 L451.5,53.0 L442.7,53.0Z" fill="#fff" stroke="#000" stroke-width="0.9" stroke-linejoin="miter"/>
<path d="M312.4,202.0 L316.8,209.4 L308.0,209.4Z" fill="#000"/>
<path d="M311.6,201.2 L316.0,208.6 L307.2,208.6Z" fill="#222" stroke="#000" stroke-width="0.9" stroke-linejoin="miter"/>
<path d="M324.2,203.3 L328.6,210.7 L319.8,210.7Z" fill="#000"/>
<path d="M323.4,202.5 L327.8,209.9 L319.0,209.9Z" fill="#222" stroke="#000" stroke-width="0.9" stroke-linejoin="miter"/>
<path d="M336.0,202.8 L340.4,210.2 L331.6,210.2Z" fill="#000"/>
<path d="M335.2,202.0 L339.6,209.4 L330.8,209.4Z" fill="#222" stroke="#000" stroke-width="0.9" stroke-linejoin="miter"/>
<path d="M356.6,205.1 L361.0,212.5 L352.2,212.5Z" fill="#000"/>
<path d="M355.8,204.3 L360.2,211.7 L351.4,211.7Z" fill="#222" stroke="#000" stroke-width="0.9" stroke-linejoin="miter"/>
<path d="M377.2,200.5 L381.6,207.9 L372.8,207.9Z" fill="#000"/>
<path d="M376.4,199.7 L380.8,207.1 L372.0,207.1Z" fill="#222" stroke="#000" stroke-width="0.9" stroke-linejoin="miter"/>
<path d="M397.8,191.2 L402.2,198.6 L393.4,198.6Z" fill="#000"/>
<path d="M397.0,190.4 L401.4,197.8 L392.6,197.8Z" fill="#222" stroke="#000" stroke-width="0.9" stroke-linejoin="miter"/>
<path d="M418.5,179.6 L422.9,187.0 L414.1,187.0Z" fill="#000"/>
<path d="M417.7,178.8 L422.1,186.2 L413.3,186.2Z" fill="#222" stroke="#000" stroke-width="0.9" stroke-linejoin="miter"/>
<path d="M436.1,173.8 L440.5,181.2 L431.7,181.2Z" fill="#000"/>
<path d="M435.3,173.0 L439.7,180.4 L430.9,180.4Z" fill="#222" stroke="#000" stroke-width="0.9" stroke-linejoin="miter"/>
<path d="M447.9,175.0 L452.3,182.4 L443.5,182.4Z" fill="#000"/>
<path d="M447.1,174.2 L451.5,181.6 L442.7,181.6Z" fill="#222" stroke="#000" stroke-width="0.9" stroke-linejoin="miter"/>
<path d="M459.7,171.5 L464.1,178.9 L455.3,178.9Z" fill="#000"/>
<path d="M458.9,170.7 L463.3,178.1 L454.5,178.1Z" fill="#222" stroke="#000" stroke-width="0.9" stroke-linejoin="miter"/>
<path d="M480.3,158.8 L484.7,166.2 L475.9,166.2Z" fill="#000"/>
<path d="M479.5,158.0 L483.9,165.4 L475.1,165.4Z" fill="#222" stroke="#000" stroke-width="0.9" stroke-linejoin="miter"/>
<path d="M489.1,143.7 L493.5,151.1 L484.7,151.1Z" fill="#000"/>
<path d="M488.3,142.9 L492.7,150.3 L483.9,150.3Z" fill="#222" stroke="#000" stroke-width="0.9" stroke-linejoin="miter"/>
<path d="M318.7,26.2 H345" stroke="#000" stroke-width="1.5" stroke-dasharray="2 5.7" fill="none"/>
<circle cx="332.3" cy="26.2" r="1.9" fill="#fff" stroke="#000" stroke-width="0.8"/>
<text x="346.80" y="28.50" font-size="6.8" text-anchor="start" font-weight="normal" font-family="'Liberation Sans', Arial, sans-serif" fill="#000" >PBS</text>
<path d="M318.7,36.1 H345" stroke="#111" stroke-width="1.5" fill="none"/>
<path d="M332.3,33.9 L334.6,37.9 L330.0,37.9Z" fill="#fff" stroke="#000" stroke-width="0.8" stroke-linejoin="miter"/>
<text x="346.80" y="38.40" font-size="6.8" text-anchor="start" font-weight="normal" font-family="'Liberation Sans', Arial, sans-serif" fill="#000" >Hu3S193</text>
<path d="M318.7,45.7 H345" stroke="#cfcfcf" stroke-width="1.5" fill="none"/>
<path d="M332.3,43.5 L334.6,47.5 L330.0,47.5Z" fill="#ddd" stroke="#000" stroke-width="0.8" stroke-linejoin="miter"/>
<text x="346.80" y="48.00" font-size="6.8" text-anchor="start" font-weight="normal" font-family="'Liberation Sans', Arial, sans-serif" fill="#000" >Hu3S193-CalichDMH (1)</text>
<path d="M318.7,55.2 H345" stroke="#aaa" stroke-width="1.5" fill="none"/>
<path d="M332.3,53.0 L334.6,57.0 L330.0,57.0Z" fill="#aaa" stroke="#000" stroke-width="0.8" stroke-linejoin="miter"/>
<text x="346.80" y="57.50" font-size="6.8" text-anchor="start" font-weight="normal" font-family="'Liberation Sans', Arial, sans-serif" fill="#000" >Hu3S193-CalichDMH (2)</text>
<path d="M318.7,64.5 H345" stroke="#222" stroke-width="1.5" fill="none"/>
<path d="M332.3,62.3 L334.6,66.3 L330.0,66.3Z" fill="#111" stroke="#000" stroke-width="0.8" stroke-linejoin="miter"/>
<text x="346.80" y="66.80" font-size="6.8" text-anchor="start" font-weight="normal" font-family="'Liberation Sans', Arial, sans-serif" fill="#000" >Hu3S193-CalichDMH (4)</text>
<rect x="43.8" y="291.5" width="71.8" height="10.7" fill="#c8c8c8"/>
<rect x="188.6" y="302.2" width="72.2" height="10.6" fill="#c8c8c8"/>
<rect x="260.8" y="302.2" width="41.5" height="10.6" fill="#c8c8c8"/>
<path d="M2.4,291.5 H518.0 M2.4,302.2 H518.0 M43.8,312.8 H518.0 M115.6,323.4 H518.0 M188.6,334.0 H518.0 M260.8,344.6 H518.0 M302.3,355.1 H518.0 M374.3,365.5 H518.0 M2.4,261.6 V302.2 M43.8,261.6 V312.8 M115.6,261.6 V323.4 M188.6,261.6 V334.0 M260.8,261.6 V344.6 M302.3,261.6 V355.1 M374.3,261.6 V365.5 M447.0,261.6 V365.5 M518.0,291.5 V365.5" stroke="#1a1a1a" stroke-width="1.2" fill="none"/>
<path d="M1.7999999999999998,261.6 H447.6" stroke="#555" stroke-width="1.4" fill="none"/>
<text x="23.10" y="299.10" font-size="7.1" text-anchor="middle" font-weight="normal" font-family="'Liberation Sans', Arial, sans-serif" fill="#111" >1.000</text>
<text x="79.70" y="299.10" font-size="7.1" text-anchor="middle" font-weight="normal" font-family="'Liberation Sans', Arial, sans-serif" fill="#111" >0.002</text>
<text x="152.10" y="299.10" font-size="7.1" text-anchor="middle" font-weight="normal" font-family="'Liberation Sans', Arial, sans-serif" fill="#111" >0.100</text>
<text x="224.70" y="299.10" font-size="7.1" text-anchor="middle" font-weight="normal" font-family="'Liberation Sans', Arial, sans-serif" fill="#111" >0.378</text>
<text x="281.55" y="299.10" font-size="7.1" text-anchor="middle" font-weight="normal" font-family="'Liberation Sans', Arial, sans-serif" fill="#111" >0.713</text>
<text x="338.30" y="299.10" font-size="7.1" text-anchor="middle" font-weight="normal" font-family="'Liberation Sans', Arial, sans-serif" fill="#111" >0.173</text>
<text x="410.65" y="299.10" font-size="7.1" text-anchor="middle" font-weight="normal" font-family="'Liberation Sans', Arial, sans-serif" fill="#111" >0.865</text>
<text x="79.70" y="309.80" font-size="7.1" text-anchor="middle" font-weight="normal" font-family="'Liberation Sans', Arial, sans-serif" fill="#111" >1.000</text>
<text x="152.10" y="309.80" font-size="7.1" text-anchor="middle" font-weight="normal" font-family="'Liberation Sans', Arial, sans-serif" fill="#111" >0.142</text>
<text x="224.70" y="309.80" font-size="7.1" text-anchor="middle" font-weight="normal" font-family="'Liberation Sans', Arial, sans-serif" fill="#111" >0.040</text>
<text x="281.55" y="309.80" font-size="7.1" text-anchor="middle" font-weight="normal" font-family="'Liberation Sans', Arial, sans-serif" fill="#111" >0.019</text>
<text x="338.30" y="309.80" font-size="7.1" text-anchor="middle" font-weight="normal" font-family="'Liberation Sans', Arial, sans-serif" fill="#111" >0.078</text>
<text x="410.65" y="309.80" font-size="7.1" text-anchor="middle" font-weight="normal" font-family="'Liberation Sans', Arial, sans-serif" fill="#111" >0.077</text>
<text x="152.10" y="320.40" font-size="7.1" text-anchor="middle" font-weight="normal" font-family="'Liberation Sans', Arial, sans-serif" fill="#111" >1.000</text>
<text x="224.70" y="320.40" font-size="7.1" text-anchor="middle" font-weight="normal" font-family="'Liberation Sans', Arial, sans-serif" fill="#111" >0.438</text>
<text x="281.55" y="320.40" font-size="7.1" text-anchor="middle" font-weight="normal" font-family="'Liberation Sans', Arial, sans-serif" fill="#111" >0.108</text>
<text x="338.30" y="320.40" font-size="7.1" text-anchor="middle" font-weight="normal" font-family="'Liberation Sans', Arial, sans-serif" fill="#111" >0.683</text>
<text x="410.65" y="320.40" font-size="7.1" text-anchor="middle" font-weight="normal" font-family="'Liberation Sans', Arial, sans-serif" fill="#111" >0.233</text>
<text x="224.70" y="331.00" font-size="7.1" text-anchor="middle" font-weight="normal" font-family="'Liberation Sans', Arial, sans-serif" fill="#111" >1.000</text>
<text x="281.55" y="331.00" font-size="7.1" text-anchor="middle" font-weight="normal" font-family="'Liberation Sans', Arial, sans-serif" fill="#111" >0.296</text>
<text x="338.30" y="331.00" font-size="7.1" text-anchor="middle" font-weight="normal" font-family="'Liberation Sans', Arial, sans-serif" fill="#111" >0.652</text>
<text x="410.65" y="331.00" font-size="7.1" text-anchor="middle" font-weight="normal" font-family="'Liberation Sans', Arial, sans-serif" fill="#111" >0.602</text>
<text x="281.55" y="341.60" font-size="7.1" text-anchor="middle" font-weight="normal" font-family="'Liberation Sans', Arial, sans-serif" fill="#111" >1.000</text>
<text x="338.30" y="341.60" font-size="7.1" text-anchor="middle" font-weight="normal" font-family="'Liberation Sans', Arial, sans-serif" fill="#111" >0.158</text>
<text x="410.65" y="341.60" font-size="7.1" text-anchor="middle" font-weight="normal" font-family="'Liberation Sans', Arial, sans-serif" fill="#111" >0.681</text>
<text x="338.30" y="352.20" font-size="7.1" text-anchor="middle" font-weight="normal" font-family="'Liberation Sans', Arial, sans-serif" fill="#111" >1.000</text>
<text x="410.65" y="352.20" font-size="7.1" text-anchor="middle" font-weight="normal" font-family="'Liberation Sans', Arial, sans-serif" fill="#111" >0.350</text>
<text x="410.65" y="362.70" font-size="7.1" text-anchor="middle" font-weight="normal" font-family="'Liberation Sans', Arial, sans-serif" fill="#111" >1.000</text>
<text transform="translate(482.50,298.90) scale(0.84,1)" font-size="6.0" text-anchor="middle" font-weight="normal" font-family="'Liberation Sans', Arial, sans-serif" fill="#111" stroke="#111" stroke-width="0.1" >PBS</text>
<text transform="translate(482.50,309.60) scale(0.84,1)" font-size="6.0" text-anchor="middle" font-weight="normal" font-family="'Liberation Sans', Arial, sans-serif" fill="#111" stroke="#111" stroke-width="0.1" >Hu3S193-CalichDMH (4)</text>
<text transform="translate(482.50,320.20) scale(0.84,1)" font-size="6.0" text-anchor="middle" font-weight="normal" font-family="'Liberation Sans', Arial, sans-serif" fill="#111" stroke="#111" stroke-width="0.1" >Hu3S193-CalichDMH (2)</text>
<text transform="translate(482.50,330.80) scale(0.84,1)" font-size="6.0" text-anchor="middle" font-weight="normal" font-family="'Liberation Sans', Arial, sans-serif" fill="#111" stroke="#111" stroke-width="0.1" >Hu3S193-CalichDMH (1)</text>
<text transform="translate(482.50,341.40) scale(0.84,1)" font-size="6.0" text-anchor="middle" font-weight="normal" font-family="'Liberation Sans', Arial, sans-serif" fill="#111" stroke="#111" stroke-width="0.1" >Hu3S193</text>
<text transform="translate(482.50,352.00) scale(0.84,1)" font-size="6.0" text-anchor="middle" font-weight="normal" font-family="'Liberation Sans', Arial, sans-serif" fill="#111" stroke="#111" stroke-width="0.1" >Rituxan-CalichDMH (4)</text>
<text transform="translate(482.50,362.50) scale(0.84,1)" font-size="6.0" text-anchor="middle" font-weight="normal" font-family="'Liberation Sans', Arial, sans-serif" fill="#111" stroke="#111" stroke-width="0.1" >Rituxan-CalichDMH (2)</text>
<text transform="translate(23.10,268.90) scale(0.98,1)" font-size="7.2" text-anchor="middle" font-weight="normal" font-family="'Liberation Sans', Arial, sans-serif" fill="#111" stroke="#111" stroke-width="0.15" >PBS</text>
<text x="23.10" y="279.40" font-size="7.4" text-anchor="middle" font-weight="normal" font-family="'Liberation Sans', Arial, sans-serif" fill="#111" >n = 10</text>
<text transform="translate(79.70,268.80) scale(0.84,1)" font-size="6.0" text-anchor="middle" font-weight="normal" font-family="'Liberation Sans', Arial, sans-serif" fill="#111" stroke="#111" stroke-width="0.1" >Hu3S193-CalichDMH (4)</text>
<text x="79.70" y="279.40" font-size="7.4" text-anchor="middle" font-weight="normal" font-family="'Liberation Sans', Arial, sans-serif" fill="#111" >n = 6</text>
<text transform="translate(152.10,268.80) scale(0.84,1)" font-size="6.0" text-anchor="middle" font-weight="normal" font-family="'Liberation Sans', Arial, sans-serif" fill="#111" stroke="#111" stroke-width="0.1" >Hu3S193-CalichDMH (2)</text>
<text x="152.10" y="279.40" font-size="7.4" text-anchor="middle" font-weight="normal" font-family="'Liberation Sans', Arial, sans-serif" fill="#111" >n = 6</text>
<text transform="translate(224.70,268.80) scale(0.84,1)" font-size="6.0" text-anchor="middle" font-weight="normal" font-family="'Liberation Sans', Arial, sans-serif" fill="#111" stroke="#111" stroke-width="0.1" >Hu3S193-CalichDMH (1)</text>
<text x="224.70" y="279.40" font-size="7.4" text-anchor="middle" font-weight="normal" font-family="'Liberation Sans', Arial, sans-serif" fill="#111" >n = 9</text>
<text transform="translate(281.55,268.90) scale(0.98,1)" font-size="7.2" text-anchor="middle" font-weight="normal" font-family="'Liberation Sans', Arial, sans-serif" fill="#111" stroke="#111" stroke-width="0.15" >Hu3S193</text>
<text x="281.55" y="279.40" font-size="7.4" text-anchor="middle" font-weight="normal" font-family="'Liberation Sans', Arial, sans-serif" fill="#111" >n = 7</text>
<text transform="translate(338.30,268.80) scale(0.84,1)" font-size="6.0" text-anchor="middle" font-weight="normal" font-family="'Liberation Sans', Arial, sans-serif" fill="#111" stroke="#111" stroke-width="0.1" >Rituxan-CalichDMH (4)</text>
<text x="338.30" y="279.40" font-size="7.4" text-anchor="middle" font-weight="normal" font-family="'Liberation Sans', Arial, sans-serif" fill="#111" >n = 7</text>
<text transform="translate(410.65,268.80) scale(0.84,1)" font-size="6.0" text-anchor="middle" font-weight="normal" font-family="'Liberation Sans', Arial, sans-serif" fill="#111" stroke="#111" stroke-width="0.1" >Rituxan-CalichDMH (2)</text>
<text x="410.65" y="279.40" font-size="7.4" text-anchor="middle" font-weight="normal" font-family="'Liberation Sans', Arial, sans-serif" fill="#111" >n = 5</text>
</svg>
</body></html>
